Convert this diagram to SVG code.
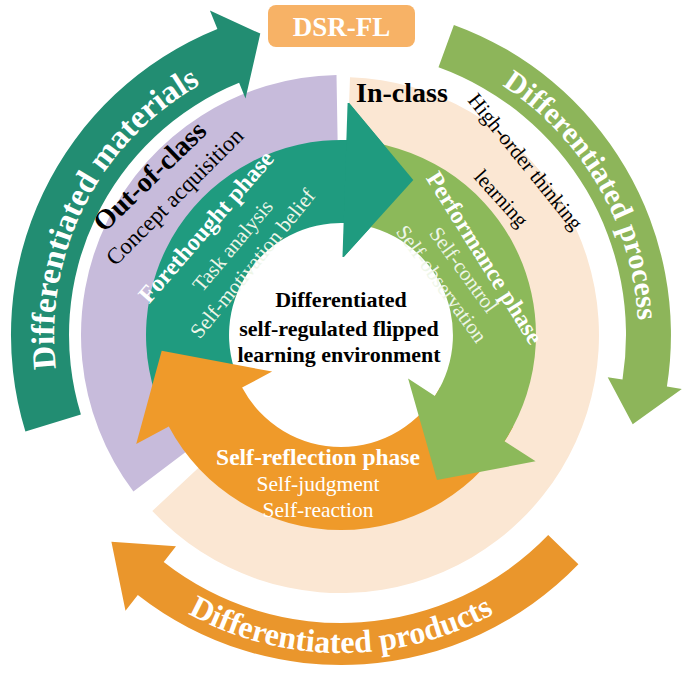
<svg xmlns="http://www.w3.org/2000/svg" width="685" height="678" viewBox="0 0 685 678">
<style>
text{font-family:"Liberation Serif","Times New Roman",serif}
.b{font-weight:bold}
.w{fill:#fff}
.lt{fill:#eef6e8}
.big{font-weight:bold;fill:#fff}
</style>
<defs>
<path id="tpM" d="M60.3,394.7 A287,287 0 0 1 224.3,72.8"/>
<path id="tpP" d="M461.8,63.7 A297,297 0 0 1 636.4,366"/>
<path id="tpD" d="M136.6,578.6 A318,318 0 0 0 545.4,578.6"/>
</defs>
<rect width="685" height="678" fill="#fff"/>
<g id="out-of-class">
<path d="M133.4,491.5 A260,260 0 0 1 336.5,75 L337.7,145 A190,190 0 0 0 189.3,449.3 Z" fill="#c7bbdb"/>
<text class="b" font-size="28" text-anchor="middle" transform="translate(156,183) rotate(-44)">Out-of-class</text>
<text font-size="23" text-anchor="middle" transform="translate(180,202) rotate(-45)">Concept acquisition</text>
</g>
<g id="in-class">
<path d="M350,77.2 A258,258 0 1 1 152.3,511 L202,464.6 A190,190 0 1 0 347.6,145.1 Z" fill="#fbe7d3"/>
<text class="b" font-size="28" x="356" y="102">In-class</text>
<text font-size="21" text-anchor="middle" transform="translate(520,166) rotate(51)">High-order thinking</text>
<text font-size="21" text-anchor="middle" transform="translate(496,203) rotate(48)">learning</text>
</g>
<g id="materials">
<path d="M25.4,431.5 A330,330 0 0 1 217.4,29 L209.9,10.5 L260.3,33.6 L245.5,98.6 L239.1,82.8 A272,272 0 0 0 80.9,414.5 Z" fill="#228d72"/>
<text class="big" font-size="33"><textPath href="#tpM" startOffset="50%" text-anchor="middle">Differentiated materials</textPath></text>
</g>
<g id="process">
<path d="M453.9,24.9 A330,330 0 0 1 666.9,386.6 L681.8,389 L632.7,424.2 L607.7,377.2 L622.5,379.6 A285,285 0 0 0 438.5,67.2 Z" fill="#8db55a"/>
<text class="big" font-size="30"><textPath href="#tpP" startOffset="50%" text-anchor="middle">Differentiated process</textPath></text>
</g>
<g id="products">
<path d="M578.4,564.3 A330,330 0 0 1 137.8,595 L125.5,610.8 L111.4,541.8 L176,546.2 L163.7,561.9 A288,288 0 0 0 548.2,535.1 Z" fill="#ea962c"/>
<text class="big" font-size="32"><textPath href="#tpD" startOffset="50%" text-anchor="middle">Differentiated products</textPath></text>
</g>
<g id="dsr-fl">
<rect x="268" y="5" width="147" height="42" rx="8" fill="#f7b266"/>
<text class="b w" font-size="27" x="341.5" y="36" text-anchor="middle">DSR-FL</text>
</g>
<g id="connectors">
<path id="forethought-body" d="M164.3,417.4 A195,195 0 0 1 347.8,140.1 L349.1,103.1 L413.3,180 L343.7,257 L344.9,223.1 A112,112 0 0 0 239.5,382.3 Z" fill="#1f9b7f"/>
<path id="reflection-arrow" d="M513.2,426.6 A195,195 0 0 1 168.8,426.6 L136.2,443.9 L161.7,350.7 L272.1,371.6 L242.1,387.6 A112,112 0 0 0 439.9,387.6 Z" fill="#ef9a2a"/>
<path id="performance-arrow" d="M347.8,140.1 A195,195 0 0 1 504.5,441.2 L535.6,461.3 L437,480.1 L408.1,378.6 L434.9,396 A112,112 0 0 0 344.9,223.1 Z" fill="#8cb95a"/>
<path id="forethought-head" d="M347.6,103.1 L349.1,103.1 L413.3,180 L343.7,257 L342.5,257 Z" fill="#1f9b7f"/>
</g>
<g id="forethought">
<text class="b w" font-size="24" text-anchor="middle" transform="translate(212,232) rotate(-49)">Forethought phase</text>
<text class="lt" font-size="21" text-anchor="middle" transform="translate(238,250) rotate(-50)">Task analysis</text>
<text class="lt" font-size="21" text-anchor="middle" transform="translate(258,268) rotate(-51)">Self-motivation belief</text>
</g>
<g id="performance">
<text class="b w" font-size="24" text-anchor="middle" transform="translate(478,262) rotate(58)">Performance phase</text>
<text class="lt" font-size="21" text-anchor="middle" transform="translate(458,274) rotate(54)">Self-control</text>
<text class="lt" font-size="21" text-anchor="middle" transform="translate(436,288) rotate(54)">Self-observation</text>
</g>
<g id="reflection">
<text class="b w" font-size="23.5" x="318" y="465" text-anchor="middle">Self-reflection phase</text>
<text class="w" font-size="21.5" x="318" y="491" text-anchor="middle">Self-judgment</text>
<text class="w" font-size="21.5" x="318" y="517" text-anchor="middle">Self-reaction</text>
</g>
<g id="center">
<text class="b" font-size="22" x="341" y="307" text-anchor="middle">Differentiated</text>
<text class="b" font-size="22" x="339" y="336" text-anchor="middle">self-regulated flipped</text>
<text class="b" font-size="22" x="339" y="362" text-anchor="middle">learning environment</text>
</g>
</svg>
